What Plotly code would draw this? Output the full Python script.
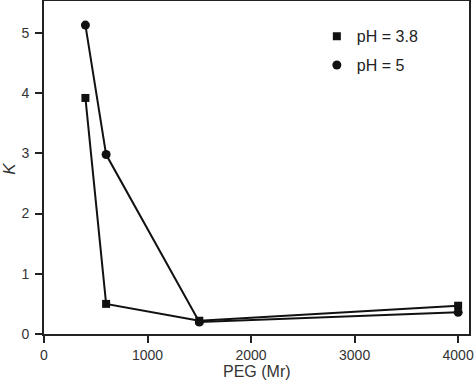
import plotly.graph_objects as go

peg = [400, 600, 1500, 4000]
k_ph38 = [3.92, 0.50, 0.22, 0.47]
k_ph5 = [5.13, 2.98, 0.20, 0.36]
x_ticks = [0, 1000, 2000, 3000, 4000]
y_ticks = [0, 1, 2, 3, 4, 5]
series_names = ["pH = 3.8", "pH = 5"]

FONT = "Arial, Liberation Sans, Helvetica, sans-serif"
INK = "#111111"
TXT = "#333333"

fig = go.Figure()
# data traces (no legend: the reference legend shows markers only)
fig.add_trace(go.Scatter(x=peg, y=k_ph38, mode="lines+markers", showlegend=False,
                         line=dict(color=INK, width=2),
                         marker=dict(symbol="square", size=8, color=INK)))
fig.add_trace(go.Scatter(x=peg, y=k_ph5, mode="lines+markers", showlegend=False,
                         line=dict(color=INK, width=2),
                         marker=dict(symbol="circle", size=9, color=INK)))
# legend entries, markers only
fig.add_trace(go.Scatter(x=[None], y=[None], mode="markers", name=series_names[0],
                         legendgroup="a",
                         marker=dict(symbol="square", size=8, color=INK)))
fig.add_trace(go.Scatter(x=[None], y=[None], mode="markers", name=series_names[1],
                         legendgroup="b",
                         marker=dict(symbol="circle", size=9, color=INK)))

axis_common = dict(showline=True, linecolor="#222222", linewidth=2, mirror=True,
                   ticks="outside", ticklen=7, tickwidth=1.5, tickcolor="#222222",
                   showgrid=False, zeroline=False, automargin=False,
                   tickfont=dict(family=FONT, size=14, color=TXT))

fig.update_layout(
    width=474, height=381,
    margin=dict(l=44, r=5, t=1, b=47),
    paper_bgcolor="white", plot_bgcolor="white",
    showlegend=True,
    legend=dict(x=0.642, y=0.945, xanchor="left", yanchor="top",
                font=dict(family=FONT, size=16, color="#222222"),
                bgcolor="rgba(0,0,0,0)", itemwidth=30, tracegroupgap=5),
    xaxis=dict(range=[0, 4105], tickvals=x_ticks, **axis_common),
    yaxis=dict(range=[0, 5.53], tickvals=y_ticks, ticklabelstandoff=3, **axis_common),
    annotations=[
        dict(text="PEG (Mr)", xref="paper", yref="paper", x=0.501, y=-0.144,
             xanchor="center", yanchor="bottom", showarrow=False,
             font=dict(family=FONT, size=16, color=TXT)),
        dict(text="<i>K</i>", xref="paper", yref="paper", x=-0.082, y=0.497,
             xanchor="center", yanchor="middle", showarrow=False, textangle=-90,
             font=dict(family=FONT, size=17, color=TXT)),
    ],
)

fig.write_html("out.html", config={"displayModeBar": False},
               post_script="document.body.style.margin='0';document.body.style.overflow='hidden';")
